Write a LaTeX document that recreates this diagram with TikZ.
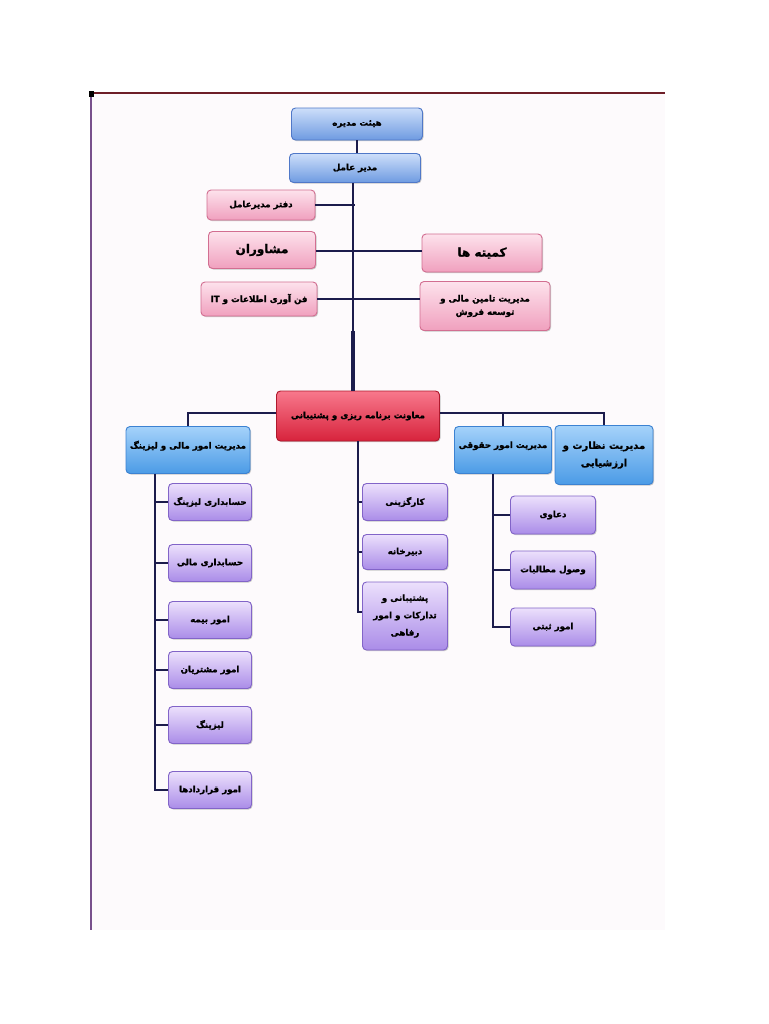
\documentclass[tikz,border=0pt]{standalone}
\usepackage{fontspec}
\newfontfamily\fa[Script=Arabic, BoldFeatures={FakeBold=1.3}]{DejaVu Sans}
\TeXXeTstate=1
\newcommand{\myR}[1]{\beginR#1\endR}
\usetikzlibrary{shadows}
\definecolor{pagebg}{RGB}{253,250,252}
\definecolor{linec}{RGB}{28,28,76}
\definecolor{topline}{RGB}{110,30,40}
\definecolor{leftline}{RGB}{120,80,140}
\tikzset{
  bx/.style n args={2}{minimum width=#1*0.75pt, minimum height=#2*0.75pt},
  base/.style={rounded corners=3pt, line width=0.7pt, inner sep=1pt, align=center,
    font=\fa\bfseries\fontsize{6.5}{10}\selectfont, text=black,
    drop shadow={shadow xshift=0.8pt, shadow yshift=-0.8pt, fill=black!35, opacity=0.6}},
  bluebox/.style={base, draw={rgb,255:red,80;green,120;blue,200}, top color={rgb,255:red,205;green,222;blue,250}, bottom color={rgb,255:red,110;green,155;blue,225}},
  pinkbox/.style={base, draw={rgb,255:red,210;green,110;blue,145}, top color={rgb,255:red,253;green,226;blue,236}, bottom color={rgb,255:red,240;green,160;blue,190}},
  redbox/.style={base, draw={rgb,255:red,175;green,25;blue,45}, top color={rgb,255:red,248;green,120;blue,140}, bottom color={rgb,255:red,215;green,35;blue,60}},
  midbox/.style={base, draw={rgb,255:red,60;green,130;blue,210}, top color={rgb,255:red,165;green,210;blue,250}, bottom color={rgb,255:red,75;green,155;blue,230}},
  purpbox/.style={base, draw={rgb,255:red,130;green,100;blue,200}, top color={rgb,255:red,236;green,224;blue,252}, bottom color={rgb,255:red,170;green,140;blue,232}},
  big/.style={font=\fa\bfseries\fontsize{9}{11}\selectfont},
  conn/.style={draw=linec, line width=1.5pt},
}
\begin{document}
\begin{tikzpicture}[x=0.75pt,y=-0.75pt]
\useasboundingbox (0,0) rectangle (768,1024);
\fill[white] (0,0) rectangle (768,1024);
\fill[pagebg] (91,93) rectangle (665,930);
\draw[topline, line width=1.5pt] (91,93) -- (665,93);
\draw[leftline, line width=1.5pt] (91,93) -- (91,930);
\fill[black] (89,91) rectangle (94,97);

% top level
\node[bluebox, bx={131}{32}] (hm) at (357,124) {\myR{هیئت مدیره}};
\node[bluebox, bx={131}{29}] (ma) at (355,168) {\myR{مدیر عامل}};
\node[pinkbox, bx={108}{30}] (dm) at (261,205) {\myR{دفتر مدیرعامل}};
\node[pinkbox, big, bx={107}{37}] (mo) at (262,250) {\myR{مشاوران}};
\node[pinkbox, big, bx={120}{38}] (km) at (482,253) {\myR{کمیته ها}};
\node[pinkbox, bx={116}{34}] (it) at (259,299) {\myR{فن آوری اطلاعات و \beginL IT\endL}};
\node[pinkbox, bx={130}{49}] (tm) at (485,306) {\myR{مدیریت تامین مالی و}\\\myR{توسعه فروش}};
\node[redbox, bx={163}{50}] (mv) at (358,416) {\myR{معاونت برنامه ریزی و پشتیبانی}};

% second level
\node[midbox, bx={124}{47}] (mal) at (188,450) {\myR{مدیریت امور مالی و لیزینگ}\\[-2pt]\mbox{}};
\node[midbox, bx={97}{47}] (hq) at (503,450) {\myR{مدیریت امور حقوقی}\\[-2pt]\mbox{}};
\node[midbox, big, bx={98}{59}, font=\fa\bfseries\fontsize{7.5}{13}\selectfont] (nz) at (604,455) {\myR{مدیریت نظارت و}\\\myR{ارزشیابی}};

% left children
\node[purpbox, bx={83}{37}] (l1) at (210,502) {\myR{حسابداری لیزینگ}};
\node[purpbox, bx={83}{37}] (l2) at (210,563) {\myR{حسابداری مالی}};
\node[purpbox, bx={83}{37}] (l3) at (210,620) {\myR{امور بیمه}};
\node[purpbox, bx={83}{37}] (l4) at (210,670) {\myR{امور مشتریان}};
\node[purpbox, bx={83}{37}] (l5) at (210,725) {\myR{لیزینگ}};
\node[purpbox, bx={83}{37}] (l6) at (210,790) {\myR{امور قراردادها}};

% middle children
\node[purpbox, bx={85}{37}] (m1) at (405,502) {\myR{کارگزینی}};
\node[purpbox, bx={85}{35}] (m2) at (405,552) {\myR{دبیرخانه}};
\node[purpbox, bx={85}{68}, font=\fa\bfseries\fontsize{6.5}{13}\selectfont] (m3) at (405,616) {\myR{پشتیبانی و}\\\myR{تدارکات و امور}\\\myR{رفاهی}};

% right children
\node[purpbox, bx={85}{38}] (r1) at (553,515) {\myR{دعاوی}};
\node[purpbox, bx={85}{38}] (r2) at (553,570) {\myR{وصول مطالبات}};
\node[purpbox, bx={85}{38}] (r3) at (553,627) {\myR{امور ثبتی}};

% connectors
\draw[conn] (hm.south) -- (hm.south |- ma.north);
\draw[conn] ([xshift=-1.5pt]ma.south) -- ([xshift=-1.5pt]ma.south |- tm.south);
\draw[draw=linec, line width=3.5pt] ([xshift=-1.5pt]ma.south |- tm.south) -- ([xshift=-1.5pt]ma.south |- mv.north);
\draw[conn] (dm.east) -- (dm.east -| ma.south);
\draw[conn] ([yshift=-1pt]mo.east) -- ([yshift=-1pt]mo.east -| km.west);
\draw[conn] (it.east) -- (it.east -| tm.west);

\draw[conn] ([yshift=2pt]mv.west) -- ([yshift=2pt]mv.west -| mal.north) -- (mal.north);
\draw[conn] ([yshift=2pt]mv.east) -- ([yshift=2pt]mv.east -| nz.north) -- (nz.north);
\draw[conn] ([yshift=2pt]mv.east -| hq.north) -- (hq.north);

\draw[conn] ([xshift=-10pt]l1.west |- mal.south) -- ([xshift=-10pt]l6.west) -- (l6.west);
\foreach \n in {l1,l2,l3,l4,l5}{\draw[conn] ([xshift=-10pt]\n.west) -- (\n.west);}

\draw[conn] (mv.south) -- (mv.south |- m3.north) -- ([yshift=3pt]mv.south |- m3.west) -- ([yshift=3pt]m3.west);
\draw[conn] (mv.south |- m1.west) -- (m1.west);
\draw[conn] (mv.south |- m2.west) -- (m2.west);

\draw[conn] ([xshift=-13pt]r1.west |- hq.south) -- ([xshift=-13pt]r3.west) -- (r3.west);
\draw[conn] ([xshift=-13pt]r1.west) -- (r1.west);
\draw[conn] ([xshift=-13pt]r2.west) -- (r2.west);
\end{tikzpicture}
\end{document}
